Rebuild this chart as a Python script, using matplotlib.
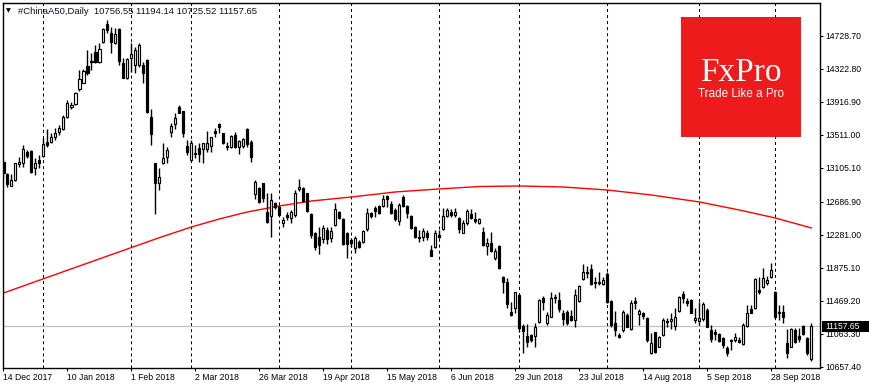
import matplotlib
matplotlib.use("Agg")
import matplotlib.pyplot as plt
from matplotlib.patches import Rectangle

# Daily OHLC of #ChinaA50, one value per trading bar
opens = [
    13183, 13031, 12888, 12957, 13154, 13162, 13306, 13314, 13101, 13203,
    13257, 13421, 13429, 13482, 13552, 13581, 13728, 13851, 13892, 14077,
    14155, 14360, 14421, 14536, 14413, 14659, 14876, 14761, 14638, 14815,
    14401, 14208, 14454, 14372, 14372, 14372, 14433, 13728, 13162, 12925,
    13162, 13236, 13552, 13642, 13859, 13806, 13376, 13204, 13294, 13347,
    13339, 13335, 13380, 13560, 13646, 13531, 13376, 13359, 13511, 13367,
    13376, 13581, 13429, 12785, 12855, 12916, 12568, 12515, 12670, 12621,
    12424, 12527, 12486, 12523, 12843, 12859, 12793, 12539, 12310, 12260,
    12228, 12342, 12240, 12404, 12560, 12474, 12302, 12219, 12117, 12191,
    12191, 12351, 12556, 12609, 12638, 12642, 12761, 12662, 12588, 12457,
    12752, 12638, 12515, 12383, 12260, 12252, 12310, 12096, 12137, 12281,
    12351, 12515, 12568, 12527, 12486, 12310, 12424, 12539, 12478, 12424,
    12322, 12146, 12178, 11994, 12150, 11760, 11707, 11330, 11379, 11543,
    11162, 11039, 11051, 11039, 11215, 11510, 11194, 11277, 11502, 11481,
    11326, 11338, 11285, 11235, 11473, 11736, 11830, 11859, 11707, 11707,
    11678, 11801, 11473, 11203, 11051, 11112, 11297, 11121, 11469, 11309,
    11317, 11256, 10825, 11084, 10908, 11051, 11227, 11223, 11162, 11350,
    11555, 11469, 11481, 11235, 11227, 11244, 11359, 11112, 11092, 11063,
    11010, 10887, 10990, 10990, 10990, 10940, 11162, 11367, 11379, 11604,
    11645, 11695, 11760, 11584, 11330, 11338, 10948, 10907, 11112, 11039,
    11162, 11010, 10756.55,
]
highs = [
    13203, 13048, 13031, 13171, 13244, 13388, 13327, 13327, 13224, 13265,
    13470, 13581, 13540, 13593, 13634, 13757, 13941, 13921, 14044, 14310,
    14319, 14556, 14515, 14618, 14638, 14823, 14925, 14843, 14823, 14823,
    14454, 14454, 14638, 14597, 14638, 14413, 14442, 13827, 13171, 13101,
    13417, 13367, 13654, 13777, 13880, 13810, 13449, 13449, 13388, 13408,
    13417, 13560, 13490, 13593, 13663, 13540, 13429, 13511, 13552, 13449,
    13478, 13593, 13449, 12957, 12875, 12925, 12793, 12793, 12691, 12650,
    12506, 12568, 12588, 12834, 12966, 12875, 12802, 12547, 12322, 12384,
    12404, 12384, 12384, 12670, 12576, 12486, 12322, 12240, 12269, 12219,
    12342, 12609, 12568, 12638, 12650, 12773, 12773, 12703, 12609, 12670,
    12773, 12650, 12527, 12392, 12342, 12363, 12342, 12158, 12342, 12342,
    12609, 12609, 12597, 12609, 12498, 12465, 12597, 12597, 12568, 12486,
    12375, 12240, 12322, 12117, 12158, 11777, 11748, 11461, 11584, 11551,
    11186, 11186, 11063, 11194, 11490, 11531, 11338, 11584, 11555, 11584,
    11359, 11359, 11359, 11613, 11666, 11920, 11900, 11920, 11768, 11830,
    11768, 11830, 11481, 11350, 11071, 11359, 11317, 11481, 11522, 11367,
    11338, 11268, 11071, 11092, 11039, 11256, 11256, 11318, 11379, 11531,
    11592, 11502, 11490, 11379, 11461, 11461, 11379, 11174, 11121, 11080,
    11030, 10916, 10998, 11071, 11030, 11194, 11420, 11420, 11748, 11768,
    11871, 11777, 11941, 11596, 11420, 11420, 11121, 11133, 11133, 11133,
    11174, 11030, 11194.14,
]
lows = [
    12998, 12875, 12880, 12949, 13121, 13121, 13224, 13039, 13019, 13101,
    13244, 13367, 13408, 13449, 13511, 13572, 13716, 13827, 13880, 14052,
    14146, 14249, 14310, 14401, 14401, 14647, 14761, 14515, 14630, 14372,
    14208, 14196, 14290, 14269, 14351, 14146, 13777, 13388, 12539, 12834,
    13154, 13162, 13490, 13581, 13777, 13490, 13265, 13195, 13224, 13183,
    13162, 13306, 13306, 13490, 13531, 13400, 13326, 13347, 13347, 13277,
    13347, 13367, 13183, 12720, 12670, 12691, 12433, 12260, 12597, 12515,
    12384, 12465, 12424, 12506, 12826, 12691, 12568, 12240, 12096, 12043,
    12178, 12170, 12199, 12392, 12474, 12158, 12002, 12137, 12055, 12117,
    12178, 12334, 12494, 12506, 12539, 12630, 12630, 12539, 12457, 12404,
    12630, 12486, 12351, 12240, 12199, 12211, 12219, 12023, 12117, 12240,
    12342, 12498, 12506, 12506, 12302, 12302, 12404, 12474, 12433, 12416,
    12146, 12035, 12076, 11973, 11859, 11563, 11379, 11285, 11326, 11092,
    10834, 10908, 10969, 10899, 11203, 11359, 11174, 11268, 11449, 11338,
    11174, 11174, 11227, 11153, 11461, 11727, 11748, 11666, 11625, 11666,
    11666, 11449, 11153, 11039, 11010, 11092, 11145, 11112, 11367, 11174,
    11244, 10969, 10817, 10825, 10899, 11039, 11145, 11121, 11112, 11338,
    11449, 11408, 11318, 11203, 11174, 11227, 11145, 10969, 10990, 10969,
    10887, 10793, 10866, 10969, 10948, 10928, 11145, 11318, 11367, 11555,
    11625, 11666, 11748, 11268, 11235, 11203, 10764, 10899, 10957, 10969,
    11051, 10805, 10725.52,
]
closes = [
    13039, 12908, 12957, 13162, 13183, 13335, 13253, 13060, 13171, 13171,
    13396, 13388, 13482, 13540, 13593, 13736, 13909, 13880, 14024, 14196,
    14298, 14278, 14409, 14413, 14565, 14811, 14802, 14659, 14753, 14425,
    14216, 14442, 14503, 14556, 14618, 14269, 13798, 13523, 12916, 12990,
    13224, 13326, 13622, 13716, 13786, 13540, 13302, 13408, 13273, 13277,
    13408, 13408, 13482, 13540, 13605, 13417, 13363, 13499, 13359, 13441,
    13458, 13400, 13244, 12929, 12691, 12732, 12445, 12711, 12630, 12527,
    12465, 12498, 12568, 12802, 12867, 12703, 12580, 12281, 12129, 12158,
    12363, 12228, 12334, 12597, 12494, 12170, 12170, 12178, 12240, 12137,
    12330, 12548, 12515, 12576, 12548, 12720, 12720, 12548, 12474, 12650,
    12638, 12556, 12363, 12252, 12240, 12330, 12260, 12027, 12310, 12252,
    12515, 12588, 12527, 12568, 12351, 12424, 12580, 12494, 12457, 12478,
    12158, 12178, 12088, 12088, 11871, 11699, 11432, 11297, 11576, 11133,
    11104, 10969, 10990, 11145, 11481, 11461, 11297, 11502, 11522, 11371,
    11244, 11194, 11235, 11543, 11654, 11830, 11810, 11674, 11686, 11686,
    11727, 11461, 11174, 11112, 11022, 11338, 11153, 11449, 11449, 11346,
    11285, 10990, 10957, 10846, 11022, 11235, 11207, 11244, 11268, 11522,
    11502, 11441, 11326, 11264, 11256, 11428, 11154, 10998, 11063, 10981,
    10928, 10834, 10973, 11030, 10961, 11174, 11326, 11326, 11736, 11576,
    11748, 11727, 11850, 11276, 11318, 11276, 10834, 11121, 10969, 10998,
    11063, 10825, 11157.65,
]

date_labels = [
    "14 Dec 2017", "10 Jan 2018", "1 Feb 2018", "2 Mar 2018", "26 Mar 2018",
    "19 Apr 2018", "15 May 2018", "6 Jun 2018", "29 Jun 2018", "23 Jul 2018",
    "14 Aug 2018", "5 Sep 2018", "28 Sep 2018",
]
label_step = 16  # MT4 puts a date label every 16 bars here

# first bar of each month -> dashed grid
month_start_bars = [10, 32, 47, 69, 87, 109, 129, 151, 174, 193]

# red moving average, read at a number of bars
ma_bars = [0, 10, 20, 31, 39, 47, 54, 61, 69, 77, 87, 98, 109,
           119, 129, 140, 151, 162, 174, 184, 193, 202]
ma_values = [11567, 11742, 11917, 12109, 12248, 12379, 12478,
             12564, 12638, 12699, 12748, 12810, 12847, 12877, 12884, 12871,
             12834, 12773, 12687, 12588, 12490, 12367]

price_ticks = [14728.70, 14322.80, 13916.90, 13511.00, 13105.10, 12686.90,
               12281.00, 11875.10, 11469.20, 11063.30, 10657.40]

header = "#ChinaA50,Daily  10756.55 11194.14 10725.52 11157.65"

W, H, DPI = 870, 390, 100
plt.rcParams["font.family"] = ["Liberation Sans", "DejaVu Sans"]
FS = 6.2

fig = plt.figure(figsize=(W / DPI, H / DPI), dpi=DPI)
fig.patch.set_facecolor("white")
ax = fig.add_axes([3 / W, (H - 368) / H, 817 / W, 365 / H])

n = len(closes)
bars = list(range(n))

# month grid
for b in month_start_bars:
    ax.axvline(b, color="black", lw=0.75, linestyle=(0, (2.9, 2.9)), zorder=1)

# current price line
ax.axhline(closes[-1], color="#c0c0c0", lw=0.9, zorder=1)

# moving average
ax.plot(ma_bars, ma_values, color="#ff0000", lw=1.0, zorder=2)

# candles
ax.vlines(bars, lows, highs, color="black", lw=1.0, zorder=3)
bottoms = [min(o, c) for o, c in zip(opens, closes)]
heights = [max(abs(c - o), 4) for o, c in zip(opens, closes)]
faces = ["white" if c >= o else "black" for o, c in zip(opens, closes)]
ax.bar(bars, heights, bottom=bottoms, width=0.55, color=faces,
       edgecolor="black", linewidth=0.85, zorder=4)

ax.set_xlim(-0.1, -0.1 + 817 / 4)
ax.set_ylim(10645, 15134)

for s in ax.spines.values():
    s.set_color("black")
    s.set_linewidth(1.0)

ax.yaxis.tick_right()
ax.set_yticks(price_ticks)
ax.set_yticklabels([f"{v:.2f}" for v in price_ticks])
ax.tick_params(axis="y", direction="out", length=2.4, width=0.75, pad=1.5,
               labelsize=FS, colors="black")

ax.set_xticks(list(range(0, n, label_step))[:len(date_labels)])
ax.set_xticklabels(date_labels)
ax.tick_params(axis="x", direction="out", length=2.4, width=0.75, pad=1.2,
               labelsize=FS, colors="black")
for lab in ax.get_xticklabels():
    lab.set_horizontalalignment("left")

# last price tag on the price scale (box runs to the right edge)
tag_y = ax.transData.transform((0, closes[-1]))[1] / H
fig.patches.append(Rectangle((822 / W, tag_y - 5.5 / H), 48 / W, 11 / H,
                             transform=fig.transFigure, facecolor="black",
                             edgecolor="none", zorder=10))
fig.text(825 / W, tag_y, f"{closes[-1]:.2f}", fontsize=FS, color="white",
         ha="left", va="center", zorder=11)

# header
fig.text(8 / W, (H - 12) / H, "\u25bc", fontsize=4.5, color="black", ha="center",
         va="baseline", family=["DejaVu Sans"])
fig.text(18 / W, (H - 14) / H, header, fontsize=6.8, color="#101028", ha="left",
         va="baseline")

# broker logo
fig.patches.append(Rectangle((681 / W, (H - 137) / H), 120 / W, 120 / H,
                             transform=fig.transFigure, facecolor="#ed1b1b",
                             edgecolor="none", zorder=5))
fig.text(741 / W, (H - 81) / H, "FxPro", fontsize=24, color="white", ha="center",
         va="baseline", family=["Liberation Serif"], zorder=6)
fig.text(741 / W, (H - 97) / H, "Trade Like a Pro", fontsize=8.4, color="white",
         ha="center", va="baseline", zorder=6)

fig.savefig("out.png", dpi=DPI)
